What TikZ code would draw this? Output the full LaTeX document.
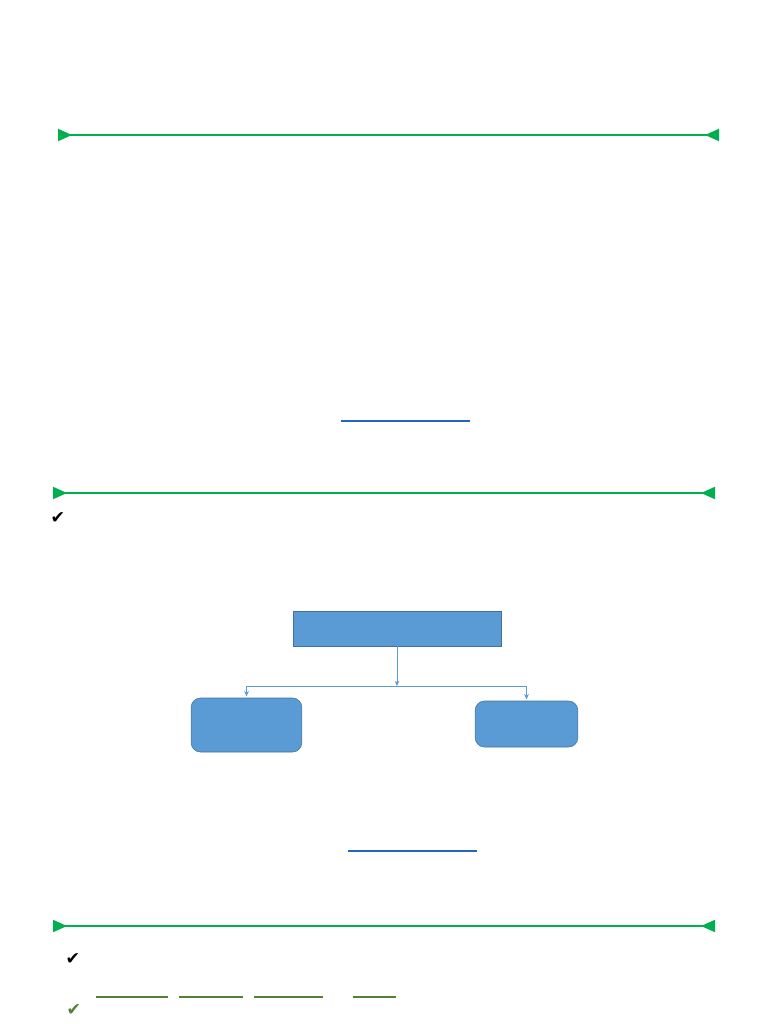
\documentclass[tikz,border=0pt]{standalone}
\usepackage{fontspec}
\newfontfamily\symfont{DejaVu Sans}
\usetikzlibrary{arrows.meta}
\definecolor{rulegreen}{HTML}{00B050}
\definecolor{linkblue}{HTML}{1F68C1}
\definecolor{boxfill}{HTML}{5B9BD5}
\definecolor{boxedge}{HTML}{41719C}
\definecolor{leafgreen}{HTML}{548235}
\tikzset{
  sectionrule/.style={rulegreen, line width=1.5pt,
    {Triangle[reversed,length=10.5pt,width=9pt]}-{Triangle[reversed,length=10.5pt,width=9pt]}},
  linkline/.style={linkblue, line width=1.5pt},
  blankline/.style={leafgreen, line width=1.5pt},
  topbox/.style={draw=boxedge, fill=boxfill, minimum width=156pt, minimum height=26pt, inner sep=0pt},
  leafbox/.style={draw=boxedge, fill=boxfill, rounded corners=7pt, inner sep=0pt},
  branch/.style={boxfill, line width=0.6pt},
  tick/.style={font=\symfont\fontsize{13}{13}\selectfont, inner sep=0pt}
}
\begin{document}
\begin{tikzpicture}[x=0.75pt,y=-0.75pt]
			\useasboundingbox (0,0) rectangle (768,1024);
			\draw [sectionrule] (58,135)-- (719,135);
			\draw [linkline] (341,421)-- (470,421);
			\draw [sectionrule] (53,493)-- (715,493);
			\node [tick] (tickA) at (58,518) {✔};
			\node [topbox] (top) at (397,628.5) {};
			\node [leafbox, minimum width=83pt, minimum height=40.5pt] (left) at (246.5,725) {};
			\node [leafbox, minimum width=77pt, minimum height=34.5pt] (right) at (526.5,724) {};
			\coordinate (split) at (397,686);
			\draw [branch, -{Stealth[length=4pt,width=3.5pt]}] (top.south) -- (split);
			\draw [branch] (left.north |- split) -- (right.north |- split);
			\draw [branch, -{Stealth[length=4pt,width=3.5pt]}] (left.north |- split) -- ([yshift=1pt]left.north);
			\draw [branch, -{Stealth[length=4pt,width=3.5pt]}] (right.north |- split) -- ([yshift=1pt]right.north);
			\draw [linkline] (348,851)-- (477,851);
			\draw [sectionrule] (53,926)-- (715,926);
			\node [tick] (tickB) at (73,959) {✔};
			\node [tick, leafgreen] (tickC) at (74,1010) {✔};
			\draw [blankline] (96,997)-- (168,997);
			\draw [blankline] (179,997)-- (243,997);
			\draw [blankline] (254,997)-- (323,997);
			\draw [blankline] (353,997)-- (396,997);
		\end{tikzpicture}
\end{document}
